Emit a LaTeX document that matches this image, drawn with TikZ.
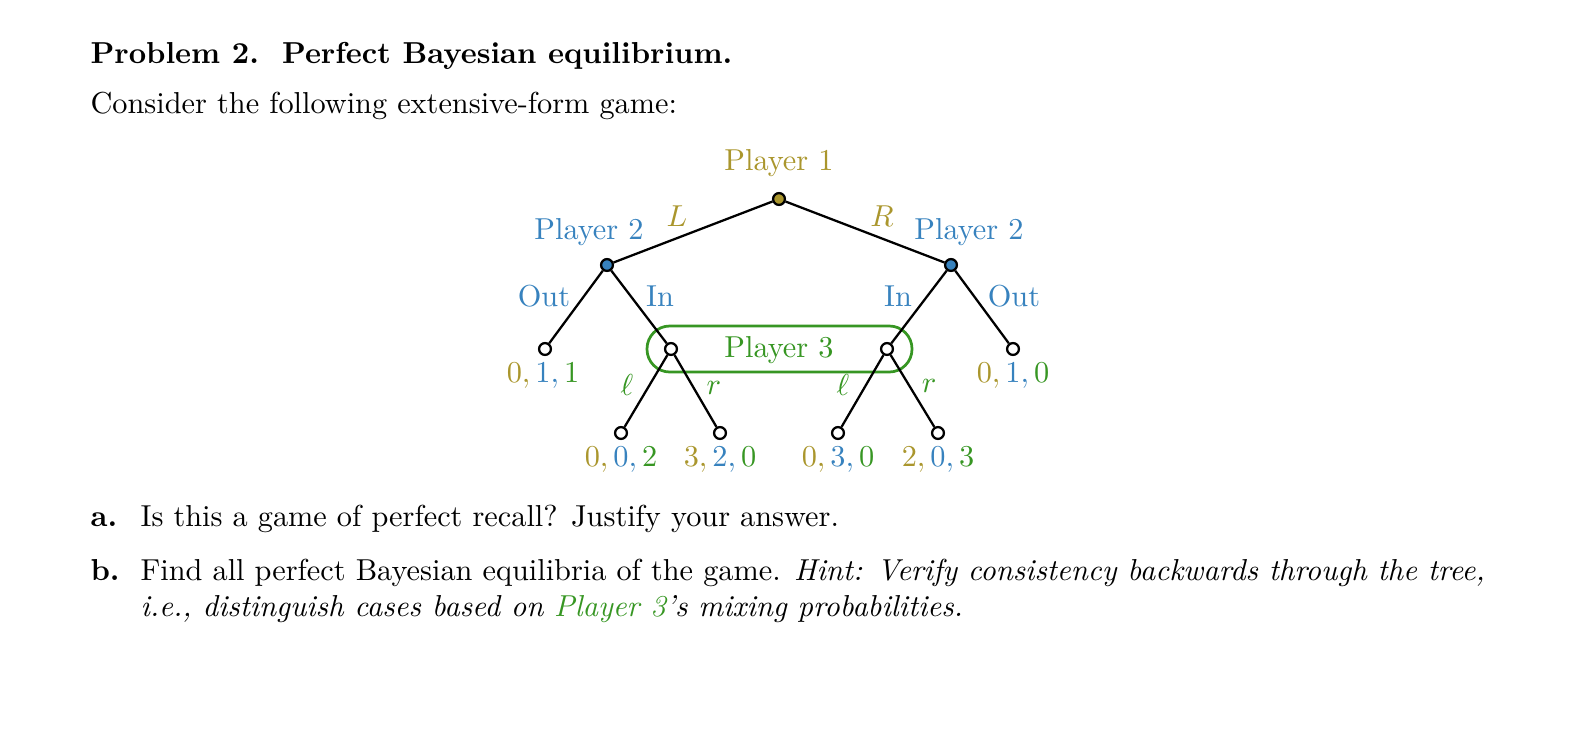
\documentclass[tikz,border=0pt]{standalone}
\usepackage{amsmath}
\definecolor{pone}{RGB}{170,150,45}
\definecolor{ptwo}{RGB}{55,130,190}
\definecolor{pthree}{RGB}{55,150,35}
\newcommand{\pay}[3]{$\color{pone}#1,\color{ptwo}#2,\color{pthree}#3$}
\begin{document}
\begin{tikzpicture}[x=0.33pt,y=-0.33pt,
  dec/.style={circle,draw,line width=0.75pt,inner sep=0pt,minimum size=3.9pt},
  edge/.style={line width=0.75pt},
  lab/.style={inner sep=0pt},
  txt/.style={anchor=base west,inner sep=0pt}]
\useasboundingbox (0,0) rectangle (1594,732);
\node[txt] (t1) at (90,63) {\textbf{Problem 2.\ \ Perfect Bayesian equilibrium.}};
\node[txt] (t2) at (90,113) {Consider the following extensive-form game:};
% info set
\draw[pthree,line width=0.9pt,rounded corners=7.5pt] (647,326) rectangle (912,372);
\node[dec,fill=pone] (r) at (779,199) {};
\node[dec,fill=ptwo] (a) at (607,265) {};
\node[dec,fill=ptwo] (b) at (951,265) {};
\node[dec,fill=white] (o1) at (545,349) {};
\node[dec,fill=white] (c) at (671,349) {};
\node[dec,fill=white] (d) at (887,349) {};
\node[dec,fill=white] (o2) at (1013,349) {};
\node[dec,fill=white] (e1) at (621,433) {};
\node[dec,fill=white] (e2) at (720,433) {};
\node[dec,fill=white] (e3) at (838,433) {};
\node[dec,fill=white] (e4) at (938,433) {};
\foreach \u/\v in {r/a,r/b,a/o1,a/c,b/d,b/o2,c/e1,c/e2,d/e3,d/e4}
  \draw[edge] (\u) -- (\v);
\node[lab,text=pone] (p1) at (779,163) {Player 1};
\node[lab,text=ptwo] (p2a) at (589,232) {Player 2};
\node[lab,text=ptwo] (p2b) at (969,232) {Player 2};
\node[lab,text=pthree] (p3) at (779,350) {Player 3};
\node[lab,text=pone] (lL) at (677,216) {$L$};
\node[lab,text=pone] (lR) at (882,216) {$R$};
\node[lab,text=ptwo] (lo1) at (544,296) {Out};
\node[lab,text=ptwo] (li1) at (660,296) {In};
\node[lab,text=ptwo] (li2) at (898,296) {In};
\node[lab,text=ptwo] (lo2) at (1014,296) {Out};
\node[lab,text=pthree] (l1) at (627,385) {$\ell$};
\node[lab,text=pthree] (r1) at (714,388) {$r$};
\node[lab,text=pthree] (l2) at (843,385) {$\ell$};
\node[lab,text=pthree] (r2) at (929,386) {$r$};
\node[lab] (q1) at (543,376) {\pay011};
\node[lab] (q2) at (1013,376) {\pay010};
\node[lab] (q3) at (621,460) {\pay002};
\node[lab] (q4) at (720,460) {\pay320};
\node[lab] (q5) at (838,460) {\pay030};
\node[lab] (q6) at (938,460) {\pay203};
\node[txt] (ta) at (90,526) {\textbf{a.}};
\node[txt] (ta2) at (140,526) {Is this a game of perfect recall? Justify your answer.};
\node[txt] (tb) at (90,580) {\textbf{b.}};
\node[txt] (tb2) at (140,580) {Find all perfect Bayesian equilibria of the game. \textit{Hint: Verify consistency backwards through the tree,}};
\node[txt] (tb3) at (140,616) {\textit{i.e., distinguish cases based on {\color{pthree}Player 3}'s mixing probabilities.}};
\end{tikzpicture}
\end{document}
